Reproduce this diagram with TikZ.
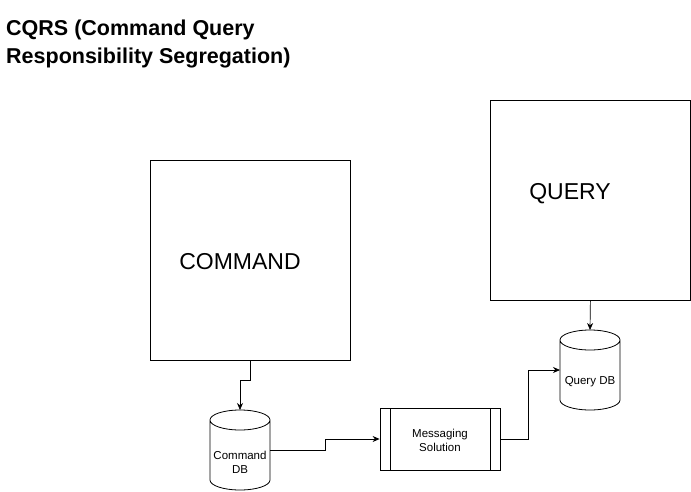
\documentclass[tikz,border=0pt]{standalone}
\usepackage{fontspec}
\setmainfont{Liberation Sans}
\usetikzlibrary{arrows.meta}
\begin{document}
\begin{tikzpicture}[x=1pt,y=-1pt,
  box/.style={draw,line width=0.8pt,fill=white},
  conn/.style={draw,line width=0.7pt,-{Stealth[length=7pt,width=6pt]}},
  small/.style={font=\fontsize{11.5}{14}\selectfont,align=center}]
\useasboundingbox (0,0) rectangle (691,491);
\node[anchor=north west,align=left,font=\bfseries\fontsize{21.5}{28}\selectfont,inner sep=0] (title) at (6,20) {CQRS (Command Query\\Responsibility Segregation)};
\node[box,minimum width=200,minimum height=200,anchor=north west,inner sep=0] (cmd) at (150,160) {};
\node[font=\fontsize{23}{26}\selectfont] (cmdt) at (240,262) {COMMAND};
\node[box,minimum width=200,minimum height=200,anchor=north west,inner sep=0] (qry) at (490,100) {};
\node[font=\fontsize{23}{26}\selectfont] (qryt) at (570,194) {QUERY};
% Command DB
\node[minimum width=60,minimum height=80,inner sep=0] (cdb) at (240,450) {};
\draw[line width=0.8pt,fill=white] (210,420) -- (210,480) arc[start angle=180,end angle=0,x radius=30,y radius=10] -- (270,420) arc[start angle=0,end angle=-180,x radius=30,y radius=10] arc[start angle=180,end angle=0,x radius=30,y radius=10];
\node[small] (cdbt) at (240,462) {Command\\DB};
% Query DB
\node[minimum width=60,minimum height=80,inner sep=0] (qdb) at (590,370) {};
\draw[line width=0.8pt,fill=white] (560,340) -- (560,400) arc[start angle=180,end angle=0,x radius=30,y radius=10] -- (620,340) arc[start angle=0,end angle=-180,x radius=30,y radius=10] arc[start angle=180,end angle=0,x radius=30,y radius=10];
\node[small] (qdbt) at (590,382) {Query DB};
% Messaging
\node[box,minimum width=120,minimum height=62,inner sep=0] (msg) at (440,439) {};
\draw[line width=0.8pt] (390,408) -- (390,470) (490,408) -- (490,470);
\node[small] (msgt) at (440,440) {Messaging\\Solution};
% connectors
\draw[conn] (cmd.south) |- (240,380) -- (240,410);
\draw[conn] (cdb.east) -- (325,450) |- (msg.west);
\draw[conn] (msg.east) -- (528,439) |- (560,370);
\draw[conn] (qry.south) -- (590,330);
\end{tikzpicture}
\end{document}
